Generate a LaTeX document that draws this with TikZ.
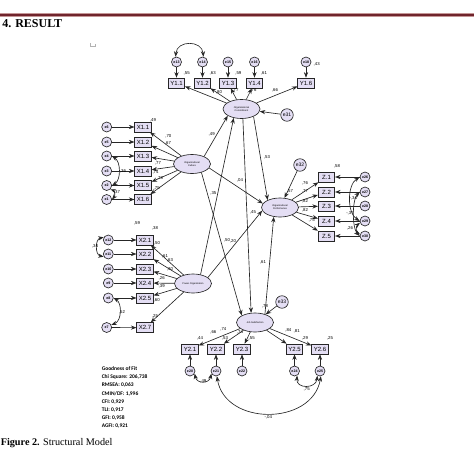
\documentclass[tikz,border=0pt]{standalone}
\usepackage{fontspec}
\setmainfont{Liberation Serif}
\setsansfont{Liberation Sans}
\newfontfamily\goffont{Carlito}
\usetikzlibrary{shapes.geometric,arrows.meta}
\definecolor{lav}{RGB}{228,222,244}
\definecolor{rulered}{RGB}{112,36,44}
\definecolor{rulepink}{RGB}{196,150,150}
\tikzset{
  arr/.style={-{Stealth[length=5.5pt,width=4.2pt]}},
  cov/.style={{Stealth[length=5.5pt,width=4.2pt]}-{Stealth[length=5.5pt,width=4.2pt]}},
  ind/.style={draw, fill=lav, minimum width=16.5pt, minimum height=10pt, inner sep=0pt,
    font=\sffamily\fontsize{6}{6}\selectfont},
  err/.style={draw, circle, fill=lav, minimum size=10pt, inner sep=0pt,
    font=\sffamily\bfseries\fontsize{3.6}{4}\selectfont},
  dist/.style={err, minimum size=12.5pt, font=\sffamily\fontsize{5}{5}\selectfont},
  lat/.style={draw, ellipse, fill=lav, minimum width=37pt, minimum height=19pt, inner sep=0pt,
    align=center, font=\sffamily\fontsize{2.4}{2.8}\selectfont},
  num/.style={inner sep=0pt, font=\sffamily\fontsize{4.3}{4.3}\selectfont},
}
\begin{document}
\begin{tikzpicture}[x=1pt, y=-1pt, line width=0.65pt, draw=black!85]
  \useasboundingbox (0,0) rectangle (474,450);
  % page header
  \draw[rulepink, line width=4pt] (0,15) -- (474,15);
  \draw[rulered, line width=2pt] (0,15) -- (474,15);
  \node[anchor=west, inner sep=0pt, font=\bfseries\fontsize{12}{12}\selectfont] (sec) at (2,24) {4. RESULT};
  \draw[gray!60, line width=0.4pt] (90.5,43) -- (90.5,46) -- (95,46) -- (95,43.5);

  % latent variables
  \node[lat] (oc)  at (241.5,109) {Organizational\\Commitment};
  \node[lat] (ocu) at (192,164)   {Organizational\\Culture};
  \node[lat] (op)  at (280,207.5) {Organizational\\Performance};
  \node[lat] (po)  at (193,283.5) {Power Organization};
  \node[lat] (js)  at (255,322.5) {Job Satisfaction};

  % disturbances
  \node[dist] (e31) at (287,115) {e31};
  \node[dist] (e32) at (300,165) {e32};
  \node[dist] (e33) at (282,302) {e33};
  \draw[arr] (e31) -- (oc);
  \draw[arr] (e32) -- (op);
  \draw[arr] (e33) -- (js);

  % Y1 indicators
  \foreach \n/\x/\e in {1/176.5/e13, 2/202.5/e14, 3/228/e15, 4/254.5/e16, 6/306/e18} {
    \node[ind] (y1\n) at (\x,83) {Y1.\n};
    \node[err] (ey1\n) at (\x,62) {\e};
    \draw[arr] (ey1\n) -- (y1\n);
    \draw[arr] (oc) -- (y1\n);
  }
  \draw[cov] (ey11.100) .. controls (177,40) and (202,40) .. (ey12.80);

  % X1 indicators
  \foreach \n/\y/\e in {1/127/e6, 2/142/e5, 3/156/e4, 4/171/e3, 5/185.5/e2, 6/199.5/e1} {
    \node[ind] (x1\n) at (143,\y) {X1.\n};
    \node[err] (ex1\n) at (106.7,\y) {\e};
    \draw[arr] (ex1\n) -- (x1\n);
    \draw[arr] (ocu) -- (x1\n);
  }
  \draw[cov] (ex13.east) .. controls (121,162) and (121,180) .. (ex15.east);
  \draw[cov] (ex15.south east) .. controls (115,191) and (115,196) .. (ex16.east);

  % X2 indicators
  \foreach \n/\y/\e in {1/240/e12, 2/254/e11, 3/269/e10, 4/283/e9, 5/298/e8} {
    \node[ind] (x2\n) at (145,\y) {X2.\n};
    \node[err] (ex2\n) at (108.3,\y) {\e};
    \draw[arr] (ex2\n) -- (x2\n);
    \draw[arr] (po) -- (x2\n);
  }
  \node[ind] (x27) at (145,327.7) {X2.7};
  \node[err] (ex27) at (106.7,327.5) {e7};
  \draw[arr] (ex27) -- (x27);
  \draw[arr] (po) -- (x27);
  \draw[cov] (ex21.150) .. controls (95,239) and (95,255) .. (ex22.210);
  \draw[cov] (ex25.east) .. controls (122,303) and (122,321) .. (ex27.30);

  % Z indicators
  \foreach \n/\y/\e in {1/177/e26, 2/192/e27, 3/206/e28, 4/221/e29, 5/236/e30} {
    \node[ind] (z\n) at (326.5,\y) {Z.\n};
    \node[err] (ez\n) at (365,\y) {\e};
    \draw[arr] (ez\n) -- (z\n);
    \draw[arr] (op) -- (z\n);
  }
  \draw[cov] (ez1.west) .. controls (347,185) and (347,213) .. (ez4.west);
  \draw[cov] (ez2.west) .. controls (352,200) and (352,228) .. (ez5.west);
  \draw[cov] (ez4.200) .. controls (356,226) and (356,232) .. (ez5.160);

  % Y2 indicators
  \foreach \n/\x/\e in {1/190/e20, 2/216/e21, 3/242/e22, 5/294.5/e24, 6/320/e25} {
    \node[ind] (y2\n) at (\x,349) {Y2.\n};
    \node[err] (ey2\n) at (\x,371) {\e};
    \draw[arr] (ey2\n) -- (y2\n);
    \draw[arr] (js) -- (y2\n);
  }
  \draw[cov] (ey21.-30) .. controls (197,384) and (209,384) .. (ey22.210);
  \draw[cov] (ey25.-60) .. controls (296,389) and (316,389) .. (ey26.-120);
  \draw[cov] (ey22.-80) .. controls (225,426) and (312,426) .. (ey26.-80);

  % structural paths
  \draw[arr] (ocu.32)  -- (oc.206);
  \draw[arr] (po.50)   -- (oc.229);
  \draw[arr] (oc.328)  -- (op.149);
  \draw[arr] (oc.278)  -- (js.112);
  \draw[arr] (ocu.318) -- (js.152);
  \draw[arr] (ocu.347) -- (op.167);
  \draw[arr] (po.22)   -- (op.190);
  \draw[arr] (js.40)   -- (op.236);

  % estimates
  \foreach \x/\y/\t [count=\i] in {
      186.7/73/{,55}, 212.7/73/{,63}, 238.3/73/{,59}, 264/73/{,61}, 316.7/64/{,43},
      219/92.7/{,80}, 235.5/90.5/{,77}, 253.5/90.5/{,76}, 275/90/{,66},
      153/120/{,49}, 168.3/136.7/{,70}, 168/143/{,67}, 158/163.3/{,77}, 155.5/172.7/{,74},
      160/178.5/{,78}, 156.7/188/{,75}, 123/171/{,36}, 117/192/{,37},
      137/223/{,59}, 155/228/{,38}, 157/243.3/{,50}, 165/256/{,61}, 170/260.7/{,63},
      170/269/{,30}, 161.7/278.3/{,26}, 161.7/286/{,39}, 156.7/300/{,60}, 155/316.7/{,25},
      95/246/{,34}, 122/312/{,52},
      337/166/{,58}, 305/183.3/{,76}, 305/191.7/{,77}, 305/201.7/{,82}, 305/210/{,82},
      311.7/220/{,75}, 353.3/198.3/{-,34}, 350/213.3/{-,37}, 350/228.3/{,26},
      290/191.7/{,57}, 265/306/{,78},
      200/338/{,44}, 225/338/{,53}, 251.7/338/{,55}, 305/338/{,29}, 330/338/{,25},
      213.3/332.7/{,66}, 223.3/329.3/{,74}, 240/332.7/{,74}, 288.3/330/{,84}, 296.7/331.7/{,81},
      203.3/381/{,49}, 306.7/389/{,75}, 268.3/417/{-,04},
      211.7/134/{,49}, 240/180/{,04}, 213.3/193.3/{,35}, 267/157/{,53}, 253/212/{,45},
      263/262/{,61}, 227/240/{,50}, 233/241/{,20}} {
    \node[num] (est\i) at (\x,\y) {\t};
  }

  % fit indices
  \node[anchor=north west, inner sep=0pt, align=left,
        font=\goffont\bfseries\fontsize{5.5}{8.15}\selectfont] (gof) at (101.5,366.5)
    {Goodness of Fit\\Chi Square: 206,738\\RMSEA: 0,063\\CMIN/DF: 1,996\\CFI: 0,929\\TLI: 0,917\\GFI: 0,958\\AGFI: 0,921};

  % caption
  \node[anchor=west, inner sep=0pt, font=\fontsize{10.2}{10.2}\selectfont] (cap) at (0.5,442.7)
    {\textbf{Figure 2.} Structural Model};
\end{tikzpicture}
\end{document}
